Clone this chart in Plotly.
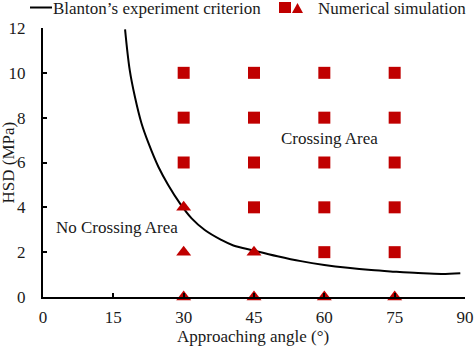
import plotly.graph_objects as go

# Blanton's criterion curve
curve_angle = [17.5, 18.5, 19.6, 21, 22.5, 24.6, 26.7, 29.2, 31.7, 34.5, 38.1, 40.6, 45, 50, 55, 60, 65, 70, 75, 80, 85, 89]
curve_hsd = [11.94, 10.12, 8.93, 7.75, 6.86, 5.81, 5.0, 4.18, 3.51, 2.99, 2.54, 2.3, 2.07, 1.82, 1.6, 1.43, 1.3, 1.2, 1.13, 1.07, 1.03, 1.06]

# Numerical simulation: crossing (squares)
cross_angle = [30, 30, 30, 45, 45, 45, 45, 60, 60, 60, 60, 60, 75, 75, 75, 75, 75]
cross_hsd = [6, 8, 10, 4, 6, 8, 10, 2, 4, 6, 8, 10, 2, 4, 6, 8, 10]

# Numerical simulation: no crossing (triangles)
nocross_angle = [30, 30, 30, 45, 45, 60, 75]
nocross_hsd = [0, 2, 4, 0, 2, 0, 0]

x_ticks = [0, 15, 30, 45, 60, 75, 90]
y_ticks = [0, 2, 4, 6, 8, 10, 12]

RED = "#C00000"
FONT = "'Liberation Serif', 'Times New Roman', 'DejaVu Serif', serif"
TXT = "#1a1a1a"

fig = go.Figure()
fig.add_trace(go.Scatter(x=curve_angle, y=curve_hsd, mode="lines", line=dict(color="black", width=2, shape="spline"),
                         showlegend=False, cliponaxis=False))
fig.add_trace(go.Scatter(x=cross_angle, y=cross_hsd, mode="markers",
                         marker=dict(symbol="square", size=12, color=RED), showlegend=False, cliponaxis=False))
fig.add_trace(go.Scatter(x=nocross_angle, y=nocross_hsd, mode="markers",
                         marker=dict(symbol="triangle-up", size=13, color=RED), showlegend=False, cliponaxis=False))

# Manual legend
fig.add_shape(type="line", xref="paper", yref="paper", x0=-0.0308, x1=0.0213, y0=1.0762, y1=1.0762,
              line=dict(color="black", width=2))
fig.add_annotation(xref="paper", yref="paper", x=0.020, y=1.072, text="Blanton’s experiment criterion",
                   showarrow=False, xanchor="left", yanchor="middle", font=dict(family=FONT, size=17, color=TXT))
fig.add_shape(type="rect", xref="paper", yref="paper", x0=0.5592, x1=0.5877, y0=1.0558, y1=1.0967,
              fillcolor=RED, line=dict(width=0))
fig.add_shape(type="path", xref="paper", yref="paper", path="M 0.5900 1.0558 L 0.6161 1.0558 L 0.6031 1.0929 Z",
              fillcolor=RED, line=dict(width=0))
fig.add_annotation(xref="paper", yref="paper", x=0.648, y=1.072, text="Numerical simulation",
                   showarrow=False, xanchor="left", yanchor="middle", font=dict(family=FONT, size=17, color=TXT))

fig.add_annotation(x=61.2, y=7.05, text="Crossing Area", showarrow=False,
                   font=dict(family=FONT, size=17, color=TXT))
fig.add_annotation(x=15.8, y=3.1, text="No Crossing Area", showarrow=False,
                   font=dict(family=FONT, size=17, color=TXT))

# Axis titles
fig.add_annotation(xref="paper", yref="paper", x=0.498, y=-0.145, text="Approaching angle (°)", showarrow=False,
                   xanchor="center", yanchor="middle", font=dict(family=FONT, size=17, color=TXT))
fig.add_annotation(xref="paper", yref="paper", x=-0.0806, y=0.5, text="HSD (MPa)", showarrow=False, textangle=-90,
                   xanchor="center", yanchor="middle", font=dict(family=FONT, size=17, color=TXT))

fig.update_layout(
    width=474, height=349,
    margin=dict(l=43, r=9, t=28, b=52),
    paper_bgcolor="white", plot_bgcolor="white",
    font=dict(family=FONT, size=17, color=TXT),
)
fig.update_xaxes(range=[0, 90], tickvals=x_ticks, ticktext=["0", "15", "30", "45", "60", "75", "90"],
                 showgrid=False, zeroline=False, showline=True, linecolor="black", linewidth=2,
                 ticks="inside", ticklen=4, tickcolor="black", tickwidth=1.5, automargin=False,
                 ticklabelstandoff=4,
                 tickfont=dict(family=FONT, size=17, color=TXT))
fig.update_yaxes(range=[0, 12], tickvals=y_ticks,
                 showgrid=False, zeroline=False, showline=True, linecolor="black", linewidth=2,
                 ticks="inside", ticklen=4, tickcolor="black", tickwidth=1.5, automargin=False,
                 ticklabelstandoff=12,
                 tickfont=dict(family=FONT, size=17, color=TXT))

fig.write_html("out.html")
